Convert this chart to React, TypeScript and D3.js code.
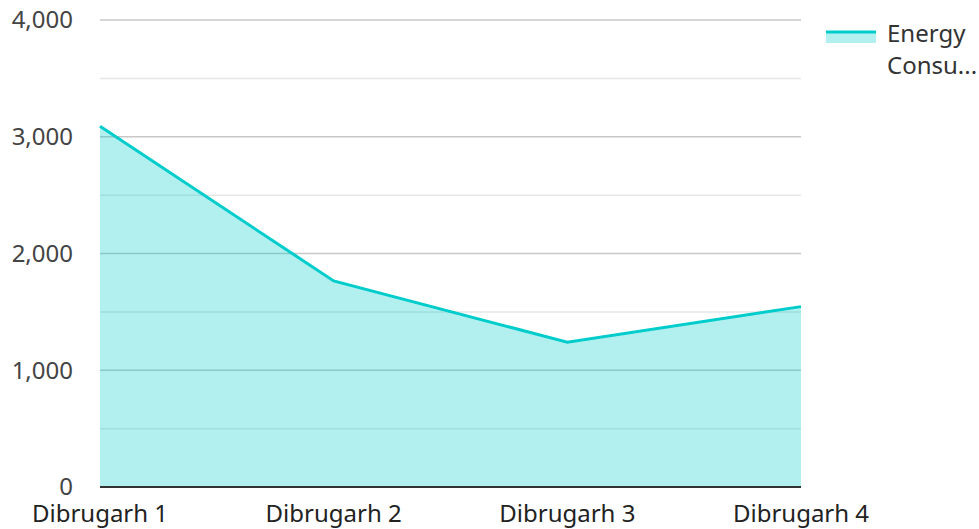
import React, { useRef, useEffect } from "react";
import * as d3 from "d3";

// chart data
const categories = ["Dibrugarh 1", "Dibrugarh 2", "Dibrugarh 3", "Dibrugarh 4"];
const energyValues = [3090, 1765, 1240, 1545];
const majorTicks = [0, 1000, 2000, 3000, 4000];
const minorTicks = [500, 1500, 2500, 3500];
const seriesLabel = ["Energy", "Consu..."];

const WIDTH = 979;
const HEIGHT = 529;
const FONT = "'Noto Sans', 'Open Sans', sans-serif";

export default function App() {
  const svgRef = useRef<SVGSVGElement>(null);

  useEffect(() => {
    if (!svgRef.current) return;
    const svg = d3.select(svgRef.current);
    svg.selectAll("*").remove();

    const left = 100;
    const right = 801;
    const top = 20;
    const bottom = 487;

    const x = d3.scalePoint<string>().domain(categories).range([left, right]);
    const y = d3.scaleLinear().domain([0, 4000]).range([bottom, top]);

    // gridlines
    svg
      .append("g")
      .selectAll("line")
      .data(minorTicks)
      .join("line")
      .attr("x1", left)
      .attr("x2", right)
      .attr("y1", (d) => y(d))
      .attr("y2", (d) => y(d))
      .attr("stroke", "#e6e6e6")
      .attr("stroke-width", 1.5);

    svg
      .append("g")
      .selectAll("line")
      .data(majorTicks.filter((d) => d > 0))
      .join("line")
      .attr("x1", left)
      .attr("x2", right)
      .attr("y1", (d) => y(d))
      .attr("y2", (d) => y(d))
      .attr("stroke", "#c8c8c8")
      .attr("stroke-width", 1.5);

    const data = categories.map((c, i) => ({ c, v: energyValues[i] }));

    const area = d3
      .area<{ c: string; v: number }>()
      .x((d) => x(d.c) as number)
      .y0(y(0))
      .y1((d) => y(d.v));
    const line = d3
      .line<{ c: string; v: number }>()
      .x((d) => x(d.c) as number)
      .y((d) => y(d.v));

    svg
      .append("path")
      .datum(data)
      .attr("d", area)
      .attr("fill", "#00cccc")
      .attr("fill-opacity", 0.3);

    svg
      .append("path")
      .datum(data)
      .attr("d", line)
      .attr("fill", "none")
      .attr("stroke", "#00cccc")
      .attr("stroke-width", 3);

    // baseline
    svg
      .append("line")
      .attr("x1", left)
      .attr("x2", right)
      .attr("y1", y(0))
      .attr("y2", y(0))
      .attr("stroke", "#333")
      .attr("stroke-width", 2);

    // y tick labels
    svg
      .append("g")
      .selectAll("text")
      .data(majorTicks)
      .join("text")
      .attr("x", 73)
      .attr("y", (d) => y(d))
      .attr("dy", "0.35em")
      .attr("text-anchor", "end")
      .attr("font-family", FONT)
      .attr("font-size", 24)
      .attr("fill", "#444")
      .text((d) => d3.format(",")(d));

    // x labels
    svg
      .append("g")
      .selectAll("text")
      .data(categories)
      .join("text")
      .attr("x", (d) => x(d) as number)
      .attr("y", 522)
      .attr("text-anchor", "middle")
      .attr("font-family", FONT)
      .attr("font-size", 24)
      .attr("fill", "#222")
      .text((d) => d);

    // legend
    const lg = svg.append("g");
    lg.append("rect")
      .attr("x", 826)
      .attr("y", 32)
      .attr("width", 50)
      .attr("height", 11)
      .attr("fill", "#00cccc")
      .attr("fill-opacity", 0.3);
    lg.append("line")
      .attr("x1", 826)
      .attr("x2", 876)
      .attr("y1", 32)
      .attr("y2", 32)
      .attr("stroke", "#00cccc")
      .attr("stroke-width", 3);
    lg.selectAll("text")
      .data(seriesLabel)
      .join("text")
      .attr("x", 887)
      .attr("y", (d, i) => 42 + i * 32)
      .attr("font-family", FONT)
      .attr("font-size", 24)
      .attr("fill", "#333")
      .text((d) => d);
  }, []);

  return (
    <svg
      ref={svgRef}
      width={WIDTH}
      height={HEIGHT}
      style={{ position: "absolute", left: 0, top: 0 }}
    ></svg>
  );
}
